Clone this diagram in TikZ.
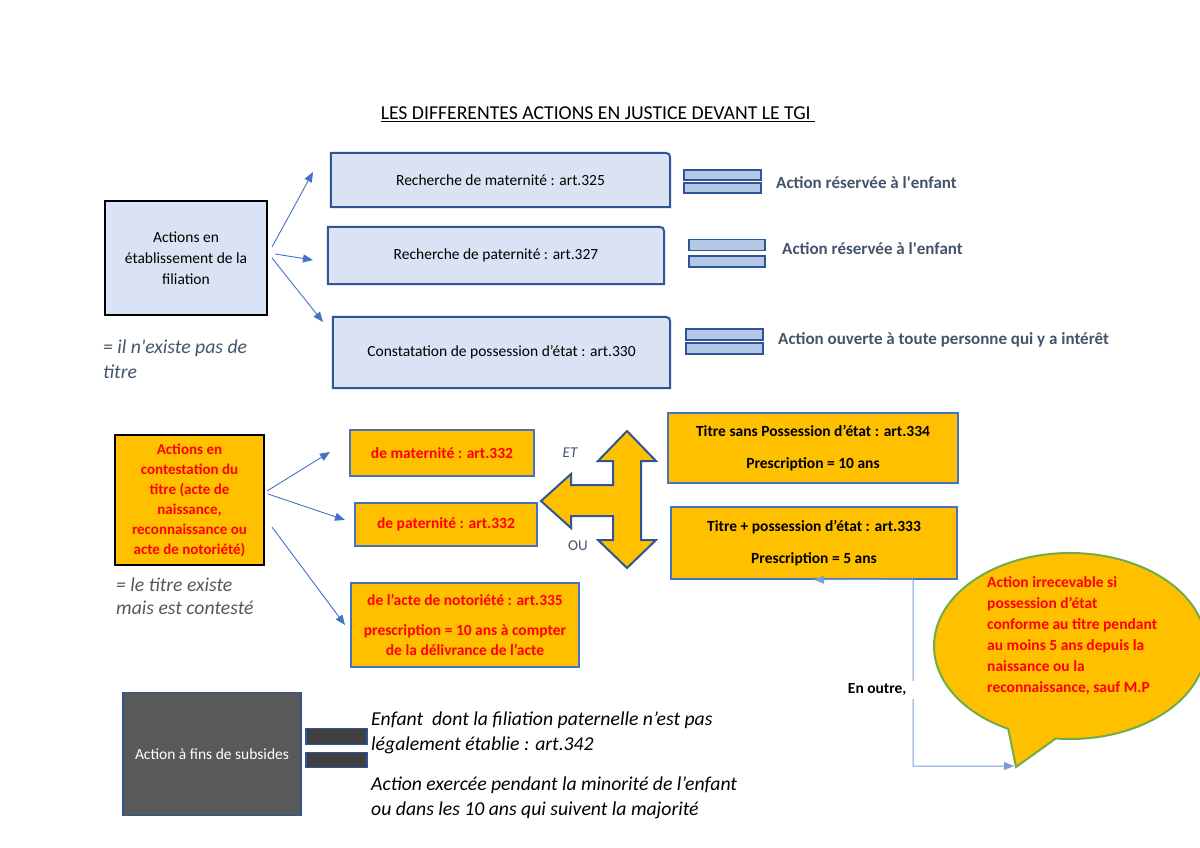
\documentclass[tikz,border=0pt]{standalone}
\usepackage{fontspec}
\setmainfont{Carlito}[Ligatures=TeXOff]
\usetikzlibrary{arrows.meta,calc,backgrounds}
\definecolor{lblue}{HTML}{DAE3F3}
\definecolor{dblue}{HTML}{2F5597}
\definecolor{mblue}{HTML}{4472C4}
\definecolor{eqblue}{HTML}{B4C7E7}
\definecolor{orng}{HTML}{FFC000}
\definecolor{slate}{HTML}{44546A}
\definecolor{grayt}{HTML}{595959}
\definecolor{dgray}{HTML}{595959}
\definecolor{ddgray}{HTML}{404040}
\definecolor{grn}{HTML}{70AD47}
\definecolor{redt}{HTML}{FF0000}
\begin{document}
\begin{tikzpicture}[x=1pt,y=-1pt,
  txt/.style={font=\fontsize{15.5}{19}\selectfont},
  blbox/.style={draw=black, line width=1.8, fill=lblue, align=center, inner sep=0,
    font=\fontsize{15.5}{21}\selectfont},
  bshape/.style={inner sep=0, font=\fontsize{15.5}{19}\selectfont},
  bborder/.style={draw=dblue, line width=2, fill=lblue},
  eqbar/.style={draw=dblue, line width=1.6, fill=eqblue, inner sep=0},
  eqlabel/.style={anchor=west, inner sep=0, text=slate, font=\bfseries\fontsize{17}{20}\selectfont},
  obox/.style={draw=mblue, line width=1.5, fill=orng, align=center, inner sep=0,
    font=\bfseries\fontsize{15.5}{20}\selectfont},
  note/.style={anchor=west, inner sep=0, align=left, font=\itshape\fontsize{19.7}{25}\selectfont},
  conn/.style={draw=mblue, line width=0.9, -{Triangle[length=10pt,width=8pt]}},
]
\useasboundingbox (0,0) rectangle (1200,848);

% title
\node[inner sep=0, font=\fontsize{19.7}{22}\selectfont] (title) at (598,114)
  {\underline{LES DIFFERENTES ACTIONS EN JUSTICE DEVANT LE TGI\ }};

% first block
\node[blbox, minimum width=162, minimum height=114] (A) at (186,258)
  {Actions en\\établissement de la\\filiation};
\node[note, text=slate] (Anote) at (103,359.5) {= il n'existe pas de\\titre};

\node[bshape, minimum width=339, minimum height=54] (B1) at (500.5,180) {Recherche de maternité : art.325};
\node[bshape, minimum width=336, minimum height=57] (B2) at (496,255.5) {Recherche de paternité : art.327};
\node[bshape, minimum width=337, minimum height=71] (B3) at (501.5,352.5) {Constatation de possession d’état : art.330};
\begin{scope}[on background layer]
\fill[white] (0,0) rectangle (1200,848);
\foreach \b in {B1,B2,B3}{
  \draw[bborder] (\b.south west) -- (\b.north west) -- ($(\b.north east)+(-10,0)$)
    .. controls (\b.north east) .. ($(\b.north east)+(0,10)$) -- (\b.south east) -- cycle;
}
\end{scope}

\coordinate (a1s) at (272,247); \coordinate (a1t) at (313,172);
\coordinate (a2s) at (275,254); \coordinate (a2t) at (313,260);
\coordinate (a3s) at (272,258); \coordinate (a3t) at (323,322);
\draw[conn] (a1s) -- (a1t);
\draw[conn] (a2s) -- (a2t);
\draw[conn] (a3s) -- (a3t);

% equal signs top
\node[eqbar, minimum width=77, minimum height=10] (e1a) at (722.5,175) {};
\node[eqbar, minimum width=77, minimum height=10] (e1b) at (722.5,188) {};
\node[eqbar, minimum width=76, minimum height=11] (e2a) at (727,245) {};
\node[eqbar, minimum width=76, minimum height=11] (e2b) at (727,261.5) {};
\node[eqbar, minimum width=77, minimum height=11] (e3a) at (724.5,334.5) {};
\node[eqbar, minimum width=77, minimum height=11] (e3b) at (724.5,348.5) {};
\node[eqlabel] (l1) at (776,183) {Action réservée à l'enfant};
\node[eqlabel] (l2) at (782,249) {Action réservée à l'enfant};
\node[eqlabel] (l3) at (778,340) {Action ouverte à toute personne qui y a intérêt};

% second block
\node[draw=black, line width=2.4, fill=orng, text=redt, align=center, inner sep=0,
  minimum width=149, minimum height=130, font=\bfseries\fontsize{15}{20}\selectfont] (C) at (189.5,500)
  {Actions en\\contestation du\\titre (acte de\\naissance,\\reconnaissance ou\\acte de notoriété)};
\node[note, text=grayt, font=\itshape\fontsize{19.7}{23}\selectfont] (Cnote) at (116,596)
  {= le titre existe\\mais est contesté};

\node[obox, text=redt, minimum width=184, minimum height=46] (D1) at (442,453) {de maternité : art.332};
\node[obox, text=redt, minimum width=182, minimum height=43] (D2) at (446,524.5) {de paternité : art.332};
\node[obox, text=redt, minimum width=228, minimum height=84] (D3) at (465,625)
  {de l’acte de notoriété : art.335\\[10pt]prescription = 10 ans à compter\\de la délivrance de l’acte};

\coordinate (c1s) at (267,491); \coordinate (c1t) at (330,452);
\coordinate (c2s) at (268,494); \coordinate (c2t) at (345,520);
\coordinate (c3s) at (272,527); \coordinate (c3t) at (345,625);
\draw[conn] (c1s) -- (c1t);
\draw[conn] (c2s) -- (c2t);
\draw[conn] (c3s) -- (c3t);

\node[inner sep=0, text=slate, font=\itshape\fontsize{15}{18}\selectfont] (et) at (570,453) {ET};
\node[inner sep=0, text=slate, font=\fontsize{15}{18}\selectfont] (ou) at (578,546) {OU};

% three-way arrow
\draw[draw=dblue, line width=2, fill=orng, line join=miter]
  (627,431) -- (656,461) -- (641,461) -- (641,540) -- (656,540) -- (627,568) -- (598,540)
  -- (613,540) -- (613,516) -- (571,516) -- (571,528) -- (541,501) -- (571,474) -- (571,485)
  -- (613,485) -- (613,461) -- (598,461) -- cycle;

\node[obox, text=black, minimum width=290, minimum height=70] (E1) at (813,448)
  {Titre sans Possession d’état : art.334\\[12pt]Prescription = 10 ans};
\node[obox, text=black, minimum width=286, minimum height=72] (E2) at (814,543)
  {Titre + possession d’état : art.333\\[12pt]Prescription = 5 ans};

% bubble
\draw[draw=grn, line width=2, fill=orng]
  plot[domain=117:456, samples=240] ({1070+136*cos(\x)},{646+93*sin(\x)}) -- (1016,767) -- cycle;
\coordinate (tip) at (1014,766);
\node[anchor=west, inner sep=0, align=left, text=redt, font=\bfseries\fontsize{15.5}{21}\selectfont] (bub) at (987,635.5)
  {Action irrecevable si\\possession d’état\\conforme au titre pendant\\au moins 5 ans depuis la\\naissance ou la\\reconnaissance, sauf M.P};

\coordinate (corner) at (913,579);
\draw[draw=mblue!70, line width=1, {Triangle[length=10pt,width=8pt]}-{Triangle[length=10pt,width=8pt]}]
  (E2.south) -- (corner) |- (tip);
\node[anchor=west, fill=white, inner xsep=2, inner ysep=3, minimum width=80, align=left,
  font=\bfseries\fontsize{15.5}{19}\selectfont] (outre) at (837,690) {En outre,};

% third block
\node[draw=dblue, line width=1.5, fill=dgray, text=white, inner sep=0,
  minimum width=178, minimum height=123, font=\fontsize{15.5}{19}\selectfont] (F) at (212,754) {Action à fins de subsides};
\node[draw=dblue, line width=1.5, fill=ddgray, inner sep=0, minimum width=61, minimum height=16] (f1) at (336.5,736.5) {};
\node[draw=dblue, line width=1.5, fill=ddgray, inner sep=0, minimum width=61, minimum height=15] (f2) at (336.5,760) {};
\node[note, text=black] (Fnote) at (371,765)
  {Enfant\ \ dont la filiation paternelle n’est pas\\légalement établie : art.342\\[15pt]Action exercée pendant la minorité de l’enfant\\ou dans les 10 ans qui suivent la majorité};
\end{tikzpicture}
\end{document}
